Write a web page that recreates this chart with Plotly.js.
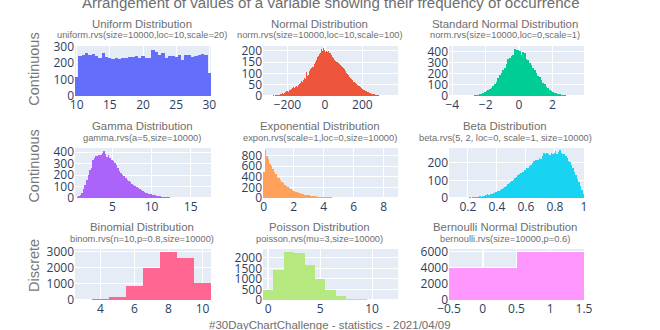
<!DOCTYPE html>
<html><head><meta charset="utf-8">
<script src="https://cdn.plot.ly/plotly-3.0.1.min.js"></script>
<style>html,body{margin:0;padding:0;background:#fff}#chart{width:660px;height:330px}</style>
</head><body><div id="chart"></div>
<script>
// ---------- DATA ----------
const mainTitle = "Arrangement of values of a variable showing their frequency of occurrence";
const footer = "#30DayChartChallenge - statistics - 2021/04/09";
const titles = ["Uniform Distribution","Normal Distribution","Standard Normal Distribution",
  "Gamma Distribution","Exponential Distribution","Beta Distribution",
  "Binomial Distribution","Poisson Distribution","Bernoulli Normal Distribution"];
const subtitles = ["uniform.rvs(size=10000,loc=10,scale=20)","norm.rvs(size=10000,loc=10,scale=100)","norm.rvs(size=10000,loc=0,scale=1)",
  "gamma.rvs(a=5,size=10000)","expon.rvs(scale=1,loc=0,size=10000)","beta.rvs(5, 2, loc=0, scale=1, size=10000)",
  "binom.rvs(n=10,p=0.8,size=10000)","poisson.rvs(mu=3,size=10000)","bernoulli.rvs(size=10000,p=0.6)"];
const rowLabels = ["Continuous","Continuous","Discrete"];

// histogram bins: first bin centre, bin width, counts
const uniformX0 = 10, uniformDx = 0.5;
const uniformCounts = [112,242,245,262,247,254,240,232,262,236,232,222,228,222,228,228,236,238,244,232,243,228,228,278,268,246,262,232,240,240,236,246,216,246,250,236,240,250,254,250,140];

const normalX0 = -327.5, normalDx = 5;
const normalCounts = [1,0,0,1,0,1,1,0,2,1, 2,3,2,4,3,5,6,5,8,10, 12,11,14,17,16,20,22,19,26,28,
  32,35,38,36,42,45,41,50,53,56, 60,66,63,72,80,76,104,88,95,112, 118,124,130,128,142,150,148,160,172,178,
  185,192,206,198,210,204,196,200,194,198, 192,190,186,180,172,168,160,155,150,152, 146,140,138,132,128,122,118,110,104,100,
  96,92,86,80,74,70,64,60,56,52, 48,46,44,40,38,34,30,28,26,22, 20,18,16,14,12,11,9,8,7,6,
  5,4,3,3,2,2,1,1,1,0, 1,0,0,0,1,0,0,0,0,0,0,0,0,1];

const stdNormX0 = -4.15, stdNormDx = 0.1;
const stdNormCounts = [1,0,0,0,0,0,0,1,0,1, 1,2,1,3,4,6,8,11,14,22, 30,36,44,52,62,74,92,108,130,158,
  186,204,232,256,292,330,342,356,372,425, 410,418,402,370,395,385,332,322,300,276,
  250,230,210,178,170,140,120,104,84,72, 58,46,40,30,24,18,14,10,8,6, 4,3,2,2,1,1,2,0,1,0,1];

const gammaX0 = 0.3, gammaDx = 0.2;
const gammaCounts = [2,6,14,26,48,80,112,160,205,245, 262,330,352,370,365,378,372,392,410,385,
  362,372,350,336,322,305,290,262,235,222, 205,196,172,160,150,138,120,110,102,92,
  86,76,68,60,54,46,42,38,34,30, 27,22,20,16,14,12,10,8,7,6, 5,4,3,3,2,2,1,1,2,1,
  0,1,0,0,1,0,0,0,0,0, 0,0,0,0,0,0,1];

const exponX0 = 0, exponDx = 0.1;
const exponCounts = [498,902,790,735,650,612,540,498,445,402, 372,338,300,275,250,226,205,188,172,152,
  138,122,112,98,92,82,74,66,60,54, 48,45,40,36,32,30,26,24,22,18, 17,15,14,12,11,10,9,8,7,6,
  6,5,4,4,3,3,3,2,2,2, 1,2,1,1,1,0,1,0,1,0, 0,1,0,0,0,0,0,0,0,0, 0,0,0,0,0,0,0,0,0,1];

const betaX0 = 0.075, betaDx = 0.01;
const betaCounts = [1,0,0,0,0,1,0,1,1,0, 1,2,1,2,3,2,4,3,5,6, 6,9,8,10,12,18,22,16,20,24,
  28,30,34,38,42,46,50,58,62,70, 78,86,92,96,104,112,120,128,134,140, 146,150,158,168,172,182,190,198,210,216,
  214,218,226,222,240,258,252,256,250,246, 254,250,258,266,252,262,270,256,250,248,
  236,226,212,204,186,168,148,130,110,92, 70,48,20];

const binomX0 = 3, binomDx = 1;
const binomCounts = [8,55,215,880,1985,3010,2650,1050];

const poissonX0 = 0, poissonDx = 1;
const poissonCounts = [480,1420,2290,2240,1680,1010,460,170,66,25,8,2,1];

const bernoulliX0 = 0, bernoulliDx = 1;
const bernoulliCounts = [3985,6015];

// ---------- STYLE / LAYOUT ----------
const series = [
  [uniformX0,uniformDx,uniformCounts],[normalX0,normalDx,normalCounts],[stdNormX0,stdNormDx,stdNormCounts],
  [gammaX0,gammaDx,gammaCounts],[exponX0,exponDx,exponCounts],[betaX0,betaDx,betaCounts],
  [binomX0,binomDx,binomCounts],[poissonX0,poissonDx,poissonCounts],[bernoulliX0,bernoulliDx,bernoulliCounts]];
const colors = ['#636efa','#EF553B','#00cc96','#ab63fa','#FFA15A','#19d3f3','#FF6692','#B6E880','#FF97FF'];
const xRanges = [[9.75,30.25],[-330,390],[-4.2,3.9],[0.2,17.6],[-0.05,8.95],[0.07,1.0],[2.5,10.5],[-0.5,12.5],[-0.5,1.5]];
const yRanges = [[0,302],[0,221],[0,450],[0,437],[0,945],[0,284],[0,3180],[0,2420],[0,6330]];
const xDticks = [5,200,2,5,2,0.2,2,5,0.5];
const yDticks = [100,50,100,100,200,100,1000,500,2000];

const W = 660, H = 330;
const colPx = [[75,211],[263,398],[449,584]];
const rowPx = [[46,96],[148,198],[249,300]];
const titleCx = [142,319.5,505];
const titleCy = [24,126,227.3];
const subCy = [35.5,137.6,239];
const rowLabelCy = [69.7,166.6,266];

const tickFont = {family:'"Open Sans", verdana, arial, sans-serif', size:12, color:'#2a3f5f'};
const txtFamily = '"Liberation Sans", Arial, sans-serif';

const traces = [];
const layout = {
  width: W, height: H, margin:{l:0,r:0,t:0,b:0},
  paper_bgcolor:'#ffffff', plot_bgcolor:'#E5ECF6',
  bargap:0, showlegend:false, hovermode:false,
  font:{family:'"Open Sans", verdana, arial, sans-serif', color:'#2a3f5f'},
  annotations: []
};
const px = v => v / W;
const py = v => 1 - v / H;

series.forEach((s, i) => {
  const r = Math.floor(i/3), c = i % 3;
  const suf = i === 0 ? '' : String(i+1);
  traces.push({type:'bar', x0:s[0], dx:s[1], y:s[2], width:s[1],
    xaxis:'x'+suf, yaxis:'y'+suf,
    marker:{color:colors[i], line:{width:0}}, hoverinfo:'skip'});
  const common = {showgrid:true, gridcolor:'#ffffff', gridwidth:1, zeroline:true, zerolinecolor:'#ffffff',
    zerolinewidth:2, showline:false, ticks:'', tickfont:tickFont, automargin:false, fixedrange:true};
  layout['xaxis'+suf] = Object.assign({}, common, {domain:[px(colPx[c][0]), px(colPx[c][1])],
    range:xRanges[i], dtick:xDticks[i], tick0:0, anchor:'y'+suf});
  layout['yaxis'+suf] = Object.assign({}, common, {domain:[py(rowPx[r][1]), py(rowPx[r][0])],
    range:yRanges[i], dtick:yDticks[i], tick0:0, anchor:'x'+suf});
  layout.annotations.push({text:titles[i], xref:'paper', yref:'paper', x:px(titleCx[c]), y:py(titleCy[r]),
    xanchor:'center', yanchor:'middle', showarrow:false, font:{family:txtFamily, size:11.4, color:'#6e6e6e'}});
  layout.annotations.push({text:subtitles[i], xref:'paper', yref:'paper', x:px(titleCx[c]), y:py(subCy[r]),
    xanchor:'center', yanchor:'middle', showarrow:false, font:{family:txtFamily, size:9.3, color:'#6e6e6e'}});
});
rowLabels.forEach((t, r) => {
  layout.annotations.push({text:t, xref:'paper', yref:'paper', x:px(34), y:py(rowLabelCy[r]), textangle:-90,
    xanchor:'center', yanchor:'middle', showarrow:false, font:{family:txtFamily, size:14.5, color:'#777777'}});
});
layout.annotations.push({text:mainTitle, xref:'paper', yref:'paper', x:px(331), y:py(2.5),
  xanchor:'center', yanchor:'middle', showarrow:false, font:{family:txtFamily, size:15.1, color:'#6e6e6e'}});
layout.annotations.push({text:footer, xref:'paper', yref:'paper', x:px(330), y:py(324.5),
  xanchor:'center', yanchor:'middle', showarrow:false, font:{family:txtFamily, size:11.5, color:'#6e6e6e'}});

Plotly.newPlot('chart', traces, layout, {displayModeBar:false, staticPlot:true});
</script>
</body></html>
